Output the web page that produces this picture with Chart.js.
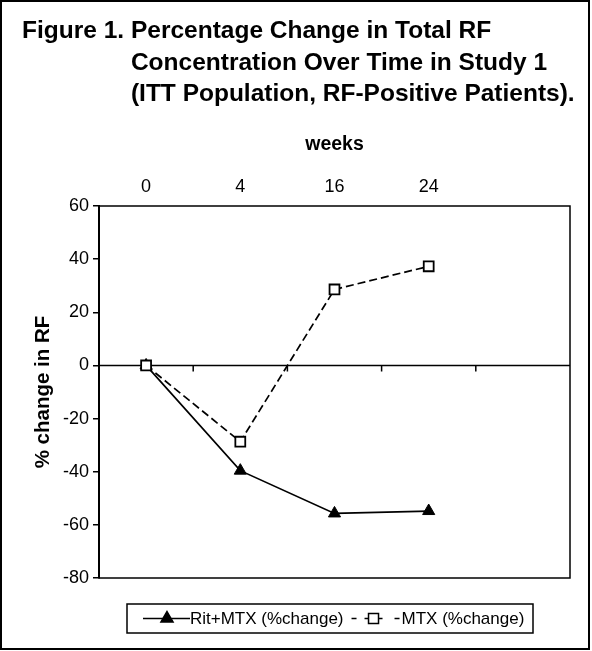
<!DOCTYPE html>
<html>
<head>
<meta charset="utf-8">
<script src="https://cdn.jsdelivr.net/npm/chart.js@4.4.1/dist/chart.umd.min.js"></script>
<style>
  body { margin: 0; background: #fff; }
  #wrap { position: relative; width: 592px; height: 651px; overflow: hidden; }
  #frame { position: absolute; left: 0; top: 0; width: 590px; height: 650px; border: 2px solid #000; box-sizing: border-box; pointer-events: none; }
  #title { position: absolute; left: 22px; top: 14px; display: flex; font: bold 24.5px "Liberation Sans", Arial, sans-serif; line-height: 31.5px; color: #000; white-space: nowrap; }
</style>
</head>
<body>
<div id="wrap">
  <canvas id="myChart" width="592" height="651"></canvas>
  <div id="title">
    <div>Figure 1.&nbsp;</div>
    <div>Percentage Change in Total RF<br>Concentration Over Time in Study 1<br>(ITT Population, RF-Positive Patients).</div>
  </div>
  <div id="frame"></div>
</div>
<script>
const weeks = ['0', '4', '16', '24', ''];
const ritMtx = [0, -39.6, -55.7, -54.8];
const mtx = [0, -28.7, 28.6, 37.3];
const yTicks = [60, 40, 20, 0, -20, -40, -60, -80];

const font = '"Liberation Sans", Arial, sans-serif';

// plot border, zero line and its tick marks
const framePlugin = {
    id: 'framePlugin',
    beforeDatasetsDraw(chart) {
        const ctx = chart.ctx;
        const a = chart.chartArea;
        const x = chart.scales.x;
        const y0 = chart.scales.y.getPixelForValue(0);
        ctx.save();
        ctx.strokeStyle = '#000';
        ctx.lineWidth = 1.5;
        ctx.strokeRect(a.left, a.top, a.right - a.left, a.bottom - a.top);
        ctx.beginPath();
        ctx.moveTo(a.left, y0);
        ctx.lineTo(a.right, y0);
        for (let i = 1; i < weeks.length; i++) {
            const bx = (x.getPixelForTick(i - 1) + x.getPixelForTick(i)) / 2;
            ctx.moveTo(bx, y0);
            ctx.lineTo(bx, y0 + 6);
        }
        ctx.stroke();
        ctx.restore();
    }
};

// legend box like the original
const legendPlugin = {
    id: 'legendPlugin',
    afterDraw(chart) {
        const ctx = chart.ctx;
        const top = 604, bottom = 633, left = 127, right = 533;
        const cy = (top + bottom) / 2;
        ctx.save();
        ctx.strokeStyle = '#000';
        ctx.fillStyle = '#000';
        ctx.lineWidth = 1.5;
        ctx.strokeRect(left, top, right - left, bottom - top);

        ctx.beginPath();
        ctx.moveTo(143, cy);
        ctx.lineTo(190, cy);
        ctx.stroke();
        Chart.helpers.drawPoint(ctx, {pointStyle: 'triangle', radius: 7, borderWidth: 1}, 167, cy);
        ctx.fill();

        ctx.font = '17px ' + font;
        ctx.textBaseline = 'middle';
        ctx.textAlign = 'left';
        const t1 = 'Rit+MTX (%change)';
        ctx.fillText(t1, 190, cy + 1);
        const x2 = 190 + ctx.measureText(t1).width + 8;

        ctx.beginPath();
        ctx.moveTo(x2, cy); ctx.lineTo(x2 + 5, cy);
        ctx.moveTo(x2 + 13, cy); ctx.lineTo(x2 + 31, cy);
        ctx.moveTo(x2 + 43, cy); ctx.lineTo(x2 + 48, cy);
        ctx.stroke();
        ctx.fillStyle = '#fff';
        ctx.beginPath();
        ctx.rect(x2 + 22 - 5, cy - 5, 10, 10);
        ctx.fill();
        ctx.stroke();
        ctx.fillStyle = '#000';
        ctx.fillText('MTX (%change)', x2 + 50, cy + 1);
        ctx.restore();
    }
};

new Chart(document.getElementById('myChart'), {
    type: 'line',
    data: {
        labels: weeks,
        datasets: [
            {
                label: 'Rit+MTX (%change)',
                data: ritMtx,
                borderColor: '#000',
                backgroundColor: '#000',
                borderWidth: 1.7,
                pointStyle: 'triangle',
                pointRadius: 7,
                pointBackgroundColor: '#000',
                pointBorderColor: '#000',
                pointBorderWidth: 1,
                tension: 0,
                order: 1
            },
            {
                label: 'MTX (%change)',
                data: mtx,
                borderColor: '#000',
                backgroundColor: '#fff',
                borderWidth: 1.7,
                borderDash: [8, 4],
                pointStyle: 'rect',
                pointRadius: 7,
                pointBackgroundColor: '#fff',
                pointBorderColor: '#000',
                pointBorderWidth: 1.8,
                tension: 0,
                order: 0
            }
        ]
    },
    options: {
        responsive: false,
        animation: false,
        devicePixelRatio: 1,
        layout: { padding: { left: 0, top: 0, right: 22, bottom: 73 } },
        scales: {
            x: {
                position: 'top',
                offset: true,
                grid: { display: false, drawTicks: false },
                border: { display: false },
                ticks: { color: '#000', font: { family: font, size: 18 }, padding: 8, maxRotation: 0, autoSkip: false },
                title: { display: true, text: 'weeks', color: '#000', font: { family: font, size: 19.5, weight: 'bold' }, padding: { top: 133, bottom: 0 } },
                afterFit(scale) { scale.height = 206; }
            },
            y: {
                min: -80,
                max: 60,
                afterBuildTicks(scale) { scale.ticks = yTicks.map(v => ({ value: v })); },
                grid: { drawOnChartArea: false, tickLength: 6, color: '#000', lineWidth: 1.5 },
                border: { color: '#000', width: 2 },
                ticks: { color: '#000', font: { family: font, size: 18 }, padding: 4 },
                title: { display: true, text: '% change in RF', color: '#000', font: { family: font, size: 20.5, weight: 'bold' }, padding: { top: 31, bottom: 0 } },
                afterFit(scale) { scale.width = 99; }
            }
        },
        plugins: {
            legend: { display: false },
            tooltip: { enabled: false }
        }
    },
    plugins: [framePlugin, legendPlugin]
});
</script>
</body>
</html>
